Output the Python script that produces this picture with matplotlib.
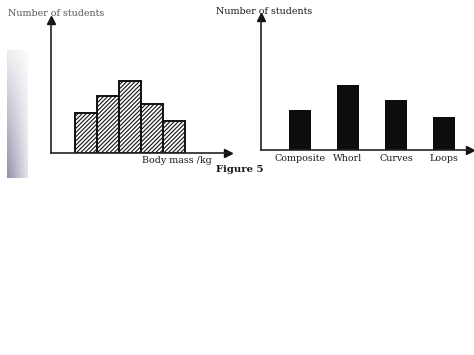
import matplotlib
matplotlib.use("Agg")
import matplotlib.pyplot as plt
import numpy as np

# Data (arbitrary units)
mass_bins = [1, 2, 3, 4, 5]
mass_counts = [40, 57, 72, 49, 32]
patterns = ["Composite", "Whorl", "Curves", "Loops"]
pattern_counts = [40, 65, 50, 33]

W, H = 474, 355
plt.rcParams['hatch.linewidth'] = 0.8
fig = plt.figure(figsize=(W / 100, H / 100), dpi=100)
fig.patch.set_facecolor("white")

def box(x0, ytop, x1, ybot):
    return [x0 / W, (H - ybot) / H, (x1 - x0) / W, (ybot - ytop) / H]

font = dict(family="DejaVu Serif", color="#1a1a1a")

# scan shading strip at left
sh = fig.add_axes(box(7, 50, 28, 178))
sh.axis("off")
yy = np.linspace(0, 1, 100)[:, None]
xx = np.linspace(0, 1, 30)[None, :]
alpha = np.clip((0.15 + 0.85 * yy) * (1 - 0.75 * xx) * 0.75, 0, 1)
img = np.zeros((100, 30, 4))
img[..., 0] = 0.42
img[..., 1] = 0.42
img[..., 2] = 0.56
img[..., 3] = alpha
sh.imshow(img, aspect="auto", extent=(0, 1, 0, 1), origin="upper")

def style_axes(ax):
    for s in ["top", "right"]:
        ax.spines[s].set_visible(False)
    for s in ["left", "bottom"]:
        ax.spines[s].set_linewidth(1.2)
        ax.spines[s].set_color("#222222")
    ax.set_yticks([])
    ax.tick_params(axis="x", length=0, pad=3)
    ax.plot(1, 0, ">", transform=ax.transAxes, color="#111111", ms=6, clip_on=False)
    ax.plot(0, 1, "^", transform=ax.transAxes, color="#111111", ms=6, clip_on=False)
    ax.set_facecolor("none")

# Left: histogram
ax1 = fig.add_axes(box(51, 20, 228, 153))
ax1.bar(mass_bins, mass_counts, width=1.0, facecolor="white", edgecolor="#111111",
        linewidth=1.4, hatch="////////")
ax1.set_xlim(-0.59, 7.46)
ax1.set_ylim(0, 133)
style_axes(ax1)
ax1.set_xticks([])
fig.text(177 / W, 1 - 160 / H, "Body mass /kg", ha="center", va="center", fontsize=6.8, **font)
fig.text(8 / W, 1 - 14 / H, "Number of students", ha="left", va="center", fontsize=6.8,
         family="DejaVu Serif", color="#555555")

# Right: bar chart
ax2 = fig.add_axes(box(261, 17, 470, 150))
ax2.bar(range(len(patterns)), pattern_counts, width=0.46, color="#0d0d0d")
ax2.set_xlim(-0.81, 3.54)
ax2.set_ylim(0, 133)
style_axes(ax2)
ax2.set_xticks(range(len(patterns)))
ax2.set_xticklabels(patterns, fontsize=6.8, **font)
fig.text(216 / W, 1 - 11 / H, "Number of students", ha="left", va="center", fontsize=6.8, **font)

fig.text(240 / W, 1 - 170 / H, "Figure 5", ha="center", va="center", fontsize=7.2,
         fontweight="bold", **font)

fig.savefig("out.png", dpi=100)
